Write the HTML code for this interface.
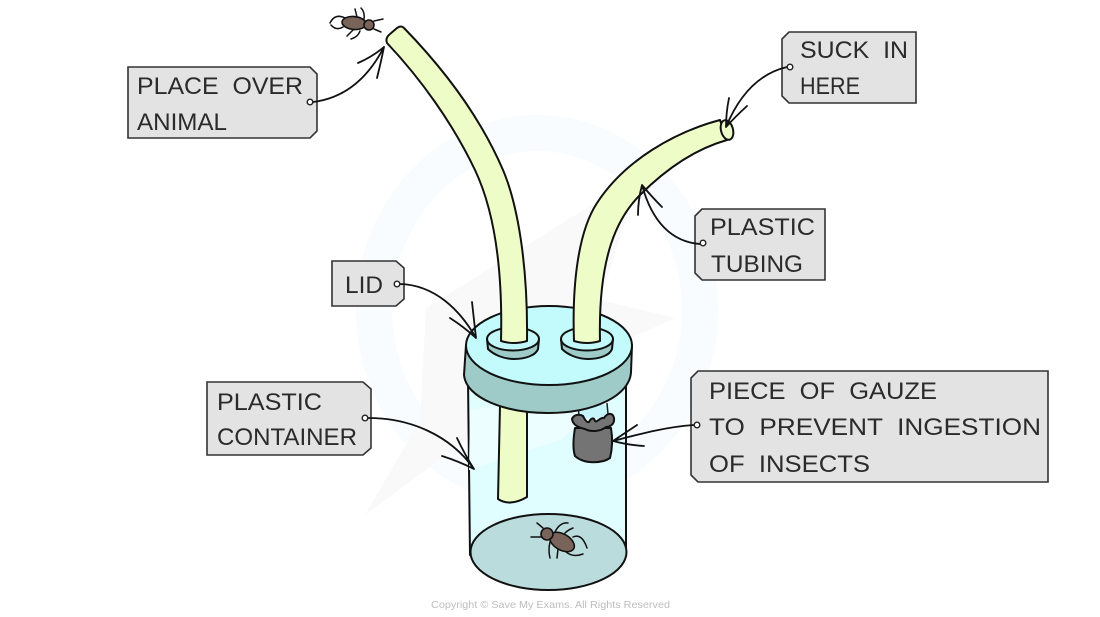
<!DOCTYPE html>
<html>
<head>
<meta charset="utf-8">
<style>
html,body{margin:0;padding:0;background:#fff;width:1100px;height:617px;overflow:hidden}
svg{display:block}
.l{font-family:"Liberation Sans",sans-serif;font-size:24.500px;fill:#2b2b2b}
.tag{fill:#e3e3e3;stroke:#333;stroke-width:1.6}
.o{stroke:#111;stroke-width:2;stroke-linejoin:round;stroke-linecap:round}
.a{fill:none;stroke:#111;stroke-width:1.8;stroke-linecap:round}
.h{fill:#fff;stroke:#222;stroke-width:1.4}
.leg{fill:none;stroke:#111;stroke-width:1.5;stroke-linecap:round}
</style>
</head>
<body>
<svg width="1100" height="617" viewBox="0 0 1100 617" xmlns="http://www.w3.org/2000/svg">
<!-- watermark -->
<ellipse cx="537" cy="310" rx="163" ry="177" fill="none" stroke="#f8fcfe" stroke-width="36"/>
<path d="M426 308 L640 175 L600 300 L675 318 L560 370 L365 515 L420 420 Z" fill="#f9f9f9"/>

<!-- container -->
<path class="o" d="M468 380 L470 555 L626 555 L626 380 Z" fill="#e0fdff"/>
<path d="M469 470 L560 440 L625 390 L470 410 Z" fill="#ecfeff"/>
<ellipse class="o" cx="548.500" cy="552" rx="78" ry="38" fill="#bbdcdc"/>

<!-- inner tube -->
<path class="o" d="M500 405 L498 499 Q510 507 527 497 L527 405 Z" fill="#eefdc8"/>

<!-- gauze stub -->
<path d="M578 405 L579 418 L608 418 L607 405 Z" fill="#c6f5fb"/>
<path d="M578 405 L579 416 M607 403 L608 414" fill="none" stroke="#222" stroke-width="1.5"/>

<!-- lid -->
<path class="o" d="M466 345 L464 375 C466 398 505 413 548 413 C595 413 630 395 631 372 L632 345 Z" fill="#9ecbc8"/>
<ellipse class="o" cx="549" cy="345.500" rx="83" ry="39.500" fill="#c3fbfd"/>

<!-- collars -->
<path class="o" d="M487 339 L488 349 C494 355 504 359 514 359 C526 359 536 355 538 349 L539 339 Z" fill="#9ecbc8"/>
<ellipse class="o" cx="513" cy="339" rx="26" ry="11.500" fill="#c3f8f8"/>
<path class="o" d="M561 339 L562 349 C568 355 578 359 588 359 C600 359 610 355 612 349 L613 339 Z" fill="#9ecbc8"/>
<ellipse class="o" cx="587" cy="339" rx="26" ry="11.500" fill="#c3f8f8"/>

<!-- left tube -->
<path class="o" d="M387 43 C420 78 452 122 475 170 C492 206 503 260 501 341 Q514 345 527 341 C528 262 517 203 503 170 C478 112 440 65 404 28 Q401 25 397 28 L390 34 Q385 38 387 43 Z" fill="#eefdc8"/>
<!-- right tube -->
<path class="o" d="M574 341 C572 285 578 232 597 203 C625 160 675 132 720 120 L727 140 C695 149 665 170 640 195 C618 217 598 255 600 341 Q587 345 574 341 Z" fill="#eefdc8"/>
<ellipse class="o" cx="727" cy="130" rx="6" ry="10" transform="rotate(-15 727 130)" fill="#eefdc8"/>

<!-- gauze -->
<path class="o" d="M575 428 C573 440 573 450 575 456 C585 465 603 463 610 458 C612 450 613 440 611 428 Z" fill="#747474"/>
<path class="o" d="M572 419 C574 414 580 414 583 416 C585 420 587 423 589 422 C591 418 594 417 595 421 C597 423 600 417 604 418 C608 412 613 413 614 418 C615 424 610 427 606 427 C600 432 590 432 585 429 C580 428 573 426 572 419 Z" fill="#747474"/>

<!-- bottom bug -->
<g>
<path class="leg" d="M537 523 L543 528 M531 537 L542 537 M555 532 Q560 522 568 523 M565 533 Q568 530 573 528 M573 537 Q582 533 587 548 M565 551 Q572 558 583 554 M550 542 Q548 550 550 558 M558 549 L557 558"/>
<ellipse cx="562" cy="542" rx="13.500" ry="8" transform="rotate(30 562 542)" fill="#7a6359" stroke="#111" stroke-width="1.6"/>
<circle cx="547" cy="534" r="6" fill="#7a6359" stroke="#111" stroke-width="1.6"/>
</g>
<!-- top bug -->
<g>
<path class="leg" d="M345 18 Q335 13 330 23 M343 27 Q336 31 331 25 M357 17 L355 9 M364 19 Q365 12 361 8 M353 30 L347 36 M360 31 Q358 37 351 39 M374 21 L383 19 M374 29 L381 32"/>
<ellipse cx="354" cy="23" rx="12" ry="6.500" transform="rotate(5 354 23)" fill="#7a6359" stroke="#111" stroke-width="1.6"/>
<circle cx="369" cy="25" r="5" fill="#7a6359" stroke="#111" stroke-width="1.6"/>
</g>

<!-- tags -->
<polygon class="tag" points="128,67 310,67 317,74 317,131 310,138 128,138"/>
<polygon class="tag" points="789,32 916,32 916,103 789,103 782,96 782,39"/>
<polygon class="tag" points="702,209 825,209 825,280 702,280 695,273 695,216"/>
<polygon class="tag" points="332,261 396,261 404,268 404,299 396,306 332,306"/>
<polygon class="tag" points="207,382 363,382 371,389 371,448 363,455 207,455"/>
<polygon class="tag" points="698,371 1048,371 1048,482 698,482 691,475 691,378"/>

<text class="l" x="137" y="94" textLength="166" lengthAdjust="spacingAndGlyphs" xml:space="preserve">PLACE  OVER</text>
<text class="l" x="137" y="130" textLength="90" lengthAdjust="spacingAndGlyphs">ANIMAL</text>
<text class="l" x="800" y="58" textLength="108" lengthAdjust="spacingAndGlyphs" xml:space="preserve">SUCK  IN</text>
<text class="l" x="800" y="94" textLength="60" lengthAdjust="spacingAndGlyphs">HERE</text>
<text class="l" x="710" y="235" textLength="105" lengthAdjust="spacingAndGlyphs">PLASTIC</text>
<text class="l" x="711" y="272" textLength="92" lengthAdjust="spacingAndGlyphs">TUBING</text>
<text class="l" x="345" y="293" textLength="38" lengthAdjust="spacingAndGlyphs">LID</text>
<text class="l" x="217" y="410" textLength="105" lengthAdjust="spacingAndGlyphs">PLASTIC</text>
<text class="l" x="217" y="445" textLength="140" lengthAdjust="spacingAndGlyphs">CONTAINER</text>
<text class="l" x="709" y="399" textLength="228" lengthAdjust="spacingAndGlyphs" xml:space="preserve">PIECE  OF  GAUZE</text>
<text class="l" x="709" y="435" textLength="332" lengthAdjust="spacingAndGlyphs" xml:space="preserve">TO  PREVENT  INGESTION</text>
<text class="l" x="709" y="472" textLength="161" lengthAdjust="spacingAndGlyphs" xml:space="preserve">OF  INSECTS</text>

<!-- arrows -->
<path class="a" d="M313 102 C345 98 368 78 384 47 M358 63 Q372 57 384 47 M377 78 Q381 62 384 47"/>
<path class="a" d="M787 67 C757 74 738 98 726 127 M729 98 Q726 113 726 127 M747 106 Q735 117 726 127"/>
<path class="a" d="M700 244 C672 242 652 222 642 185 M638 215 Q638 200 642 185 M662 207 Q652 197 642 185"/>
<path class="a" d="M400 284 C435 285 460 310 476 338 M472 302 Q474 320 476 338 M450 318 Q464 327 476 338"/>
<path class="a" d="M368 418 C410 418 450 435 474 469 M457 438 Q465 455 474 469 M442 456 Q458 461 474 469"/>
<path class="a" d="M694 425 C665 427 640 434 613 441 M637 425 Q625 433 613 441 M644 446 Q628 445 613 441"/>

<!-- tag holes -->
<circle class="h" cx="310" cy="102" r="2.800"/>
<circle class="h" cx="790" cy="67" r="2.800"/>
<circle class="h" cx="703" cy="243" r="2.800"/>
<circle class="h" cx="397" cy="284" r="2.800"/>
<circle class="h" cx="365" cy="418" r="2.800"/>
<circle class="h" cx="697" cy="425" r="2.800"/>

<text x="431" y="608" font-family="Liberation Sans, sans-serif" font-size="10.500" fill="#bdbdbd" textLength="239" lengthAdjust="spacingAndGlyphs">Copyright © Save My Exams. All Rights Reserved</text>
</svg>
</body>
</html>
